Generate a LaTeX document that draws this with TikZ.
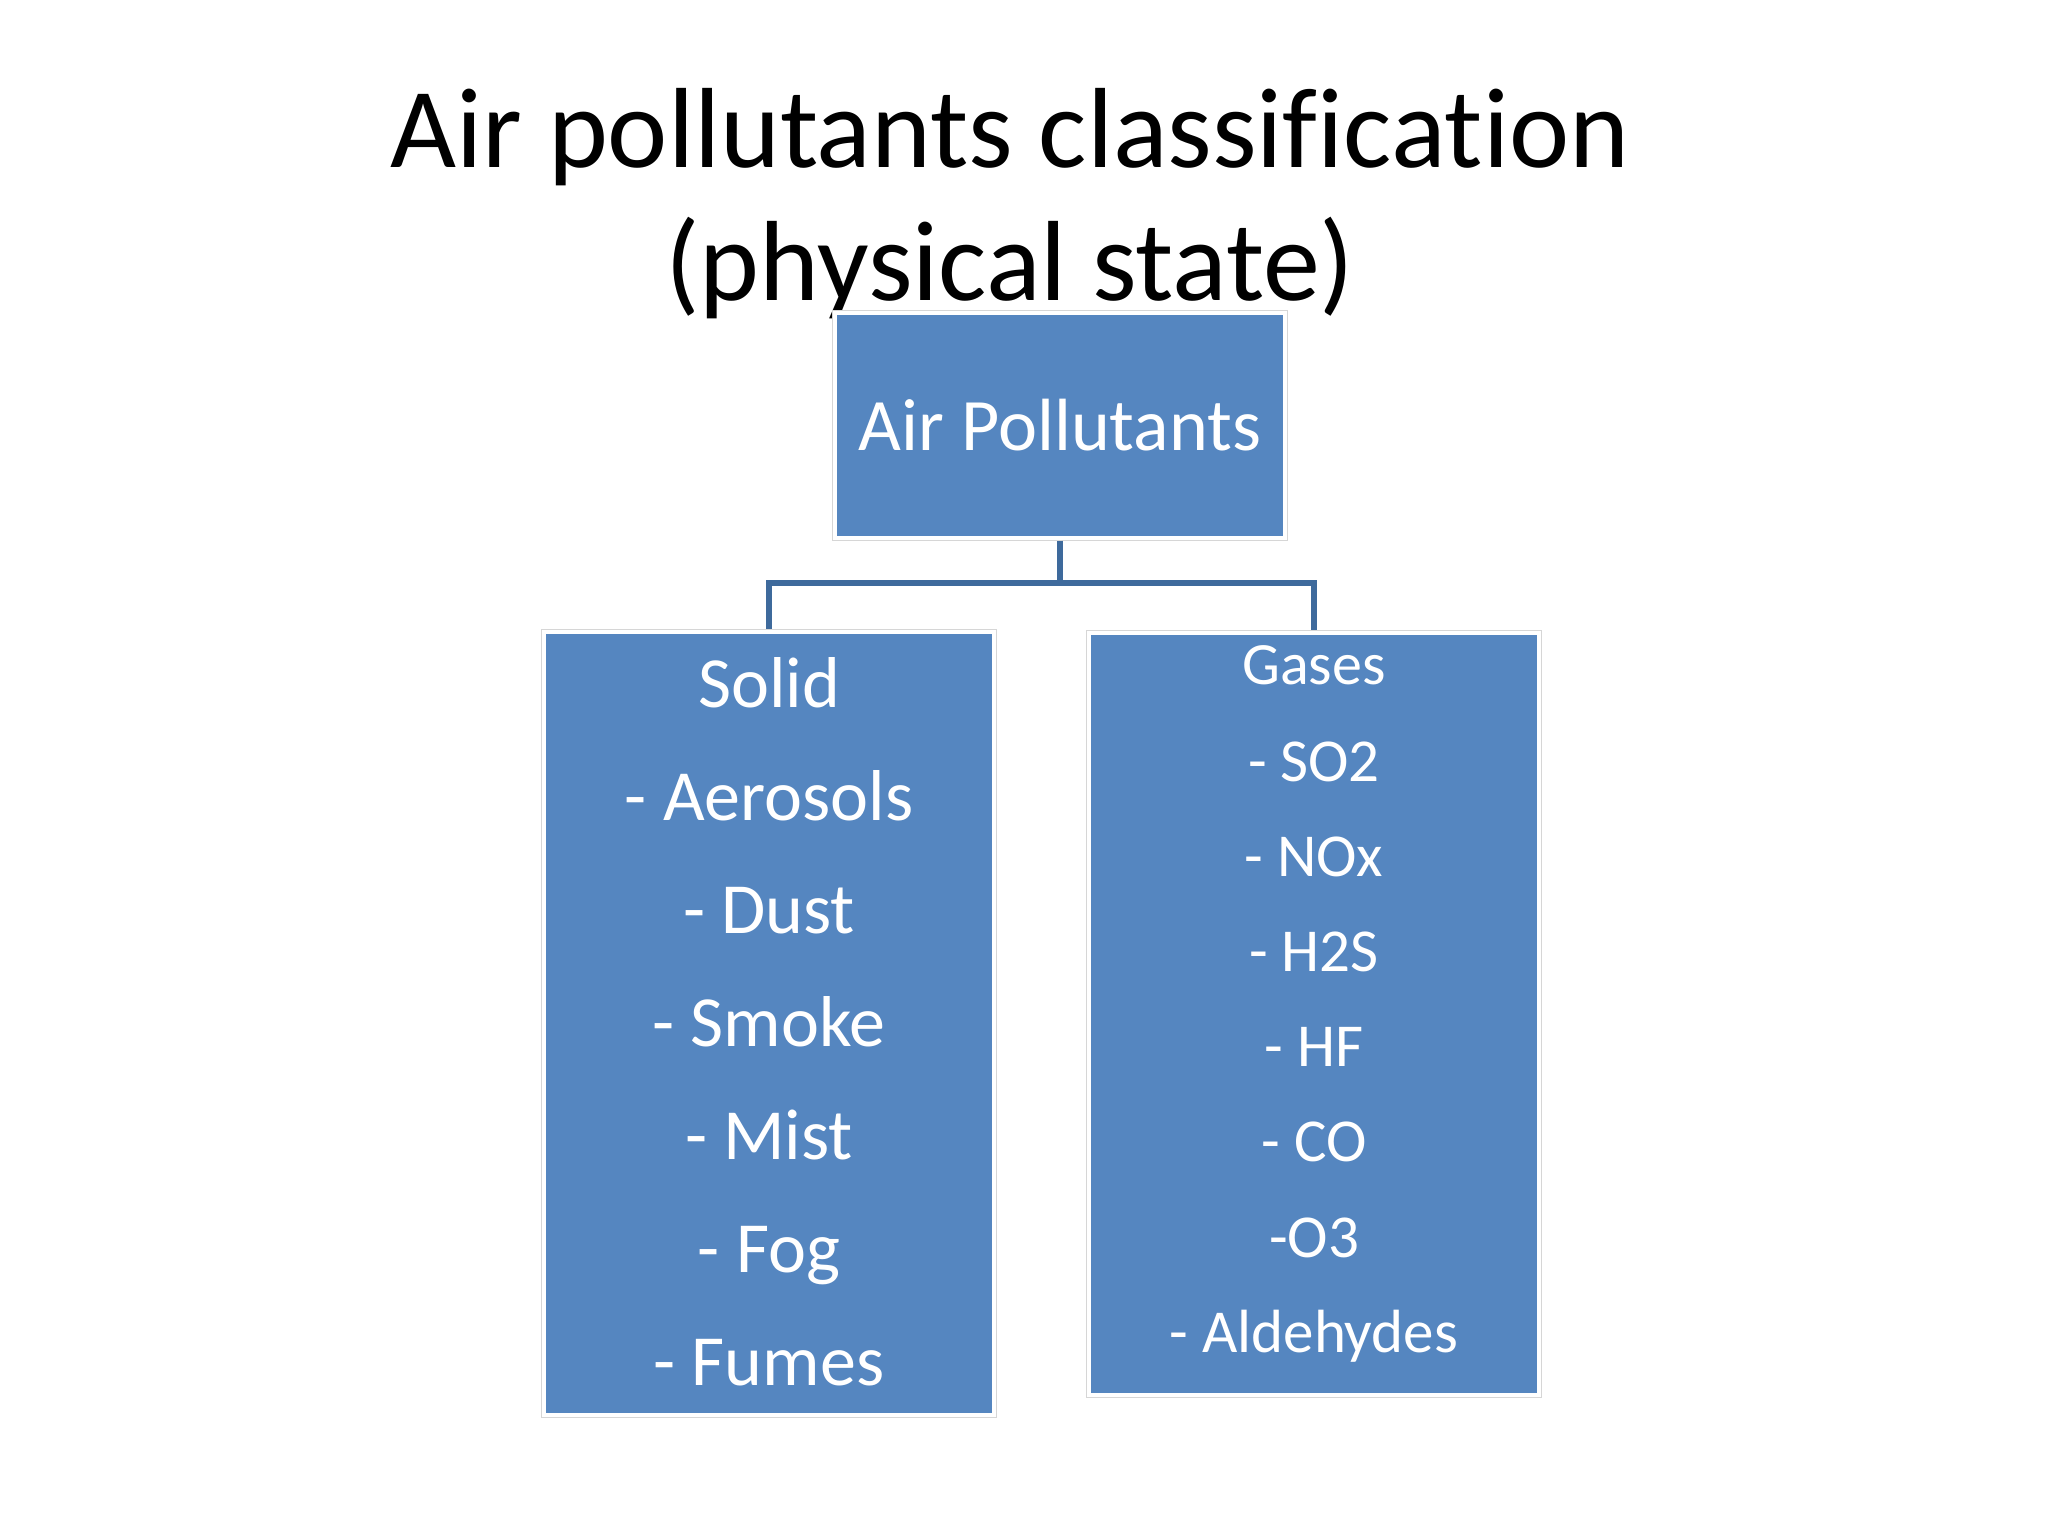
\documentclass[tikz,border=0pt]{standalone}
\usepackage{fontspec}
\setmainfont{Carlito}[Ligatures=NoCommon]

\definecolor{boxblue}{RGB}{85,134,192}
\definecolor{linkblue}{RGB}{62,106,156}
\definecolor{rimgray}{RGB}{214,214,214}

\tikzset{
    box/.style={rectangle, fill=boxblue, draw=white, line width=2pt,
        preaction={draw=rimgray, line width=3pt},
        inner sep=0pt, outer sep=0pt, minimum width=225pt},
    link/.style={draw=linkblue, line width=2.6pt},
    heading/.style={anchor=base, inner sep=0pt, font=\fontsize{57}{60}\selectfont},
    item/.style={anchor=base, inner sep=0pt, text=white}
}

\begin{document}
\begin{tikzpicture}[x=0.5pt, y=-0.5pt]
        \useasboundingbox (0,0) rectangle (2048,1536);

        \node[heading] (title1) at (1010,167) {Air pollutants classification};
        \node[heading] (title2) at (1010,300) {(physical state)};

        \node[box, minimum height=112.5pt, text=white,
            font=\fontsize{37}{40}\selectfont] (root) at (1060,425) {Air Pollutants};
        \node[box, minimum height=391.5pt] (solid) at (769,1023.5) {};
        \node[box, minimum height=381.25pt] (gases) at (1314,1013.75) {};

        % left column
        \foreach \t [count=\i] in {Solid, - Aerosols, - Dust, - Smoke, - Mist, - Fog, - Fumes}
            \node[item, font=\fontsize{36}{40}\selectfont] (solid\i) at (769, 594+113*\i) {\t};

        % right column
        \node[item, font=\fontsize{30}{32}\selectfont] (gases0) at (1314,684) {Gases};
        \foreach \t [count=\i] in {- SO2, - NOx, - H2S, - HF, - CO, -O3, - Aldehydes}
            \node[item, font=\fontsize{30.5}{32}\selectfont] (gases\i) at (1314, 685.8+95.2*\i) {\t};

        \coordinate (fork) at (1060,583);
        \draw[link, shorten <=1.5pt] (root.south) -- (fork);
        \draw[link, shorten >=1.5pt] (fork) -| (solid.north);
        \draw[link, shorten >=1.5pt] (fork) -| (gases.north);
    \end{tikzpicture}
\end{document}
